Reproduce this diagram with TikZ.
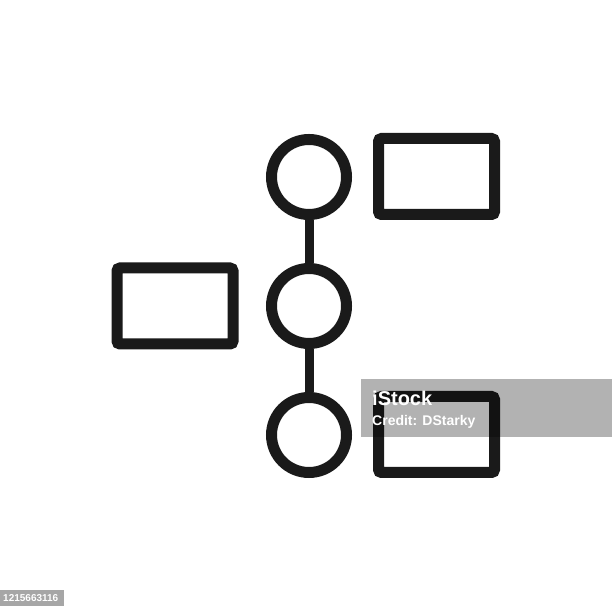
\documentclass[tikz,border=0pt]{standalone}
\usepackage{fontspec}
\setmainfont{Liberation Sans}
\begin{document}
\begin{tikzpicture}[x=1pt,y=1pt,
  iconline/.style={draw=icondark,line width=11pt},
  circ/.style={circle,iconline,minimum size=75pt,inner sep=0pt},
  boxnode/.style={rectangle,iconline,rounded corners=3pt,minimum width=116pt,minimum height=76pt,inner sep=0pt},
  wm/.style={text=white,font=\bfseries,inner sep=0pt,anchor=base west}]
\definecolor{icondark}{HTML}{1A1A1A}
\useasboundingbox (0,0) rectangle (612,612);
\fill[white] (0,0) rectangle (612,612);
% circles
\node[circ] (c1) at (309,435) {};
\node[circ] (c2) at (309,306) {};
\node[circ] (c3) at (309,177) {};
% connectors
\draw[draw=icondark,line width=9pt] (c1.south) -- (c2.north);
\draw[draw=icondark,line width=9pt] (c2.south) -- (c3.north);
% boxes
\node[boxnode] (b1) at (436.5,435.5) {};
\node[boxnode] (b2) at (175,306) {};
\node[boxnode] (b3) at (436.5,177.5) {};
% watermark
\fill[black,fill opacity=0.3] (361,175) rectangle (612,233);
\node[wm,font=\bfseries\fontsize{20}{20}\selectfont] (ist) at (372,206) {iStock};
\node[wm,font=\bfseries\fontsize{14}{14}\selectfont] (cred) at (372,186) {Credit: DStarky};
\fill[black!35] (0,6) rectangle (64,22);
\node[wm,font=\bfseries\fontsize{10}{10}\selectfont] (num) at (3,10) {1215663116};
\end{tikzpicture}
\end{document}
